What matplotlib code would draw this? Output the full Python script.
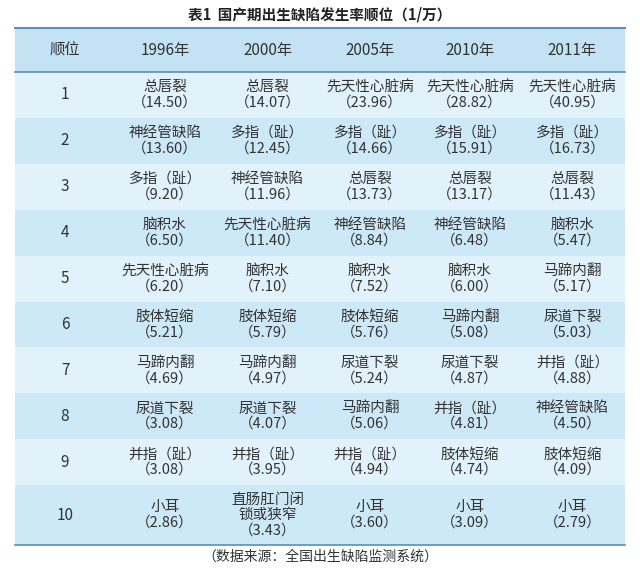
import matplotlib
matplotlib.use("Agg")
import matplotlib.pyplot as plt
from matplotlib.patches import Rectangle

plt.rcParams["font.family"] = ["Noto Sans CJK SC", "DejaVu Sans"]

title = "表1  国产期出生缺陷发生率顺位（1/万）"
source = "（数据来源：全国出生缺陷监测系统）"
headers = ["顺位", "1996年", "2000年", "2005年", "2010年", "2011年"]
ranks = ["1", "2", "3", "4", "5", "6", "7", "8", "9", "10"]
names_1996 = ["总唇裂", "神经管缺陷", "多指（趾）", "脑积水", "先天性心脏病", "肢体短缩", "马蹄内翻", "尿道下裂", "并指（趾）", "小耳"]
vals_1996 = ["14.50", "13.60", "9.20", "6.50", "6.20", "5.21", "4.69", "3.08", "3.08", "2.86"]
names_2000 = ["总唇裂", "多指（趾）", "神经管缺陷", "先天性心脏病", "脑积水", "肢体短缩", "马蹄内翻", "尿道下裂", "并指（趾）", "直肠肛门闭\n锁或狭窄"]
vals_2000 = ["14.07", "12.45", "11.96", "11.40", "7.10", "5.79", "4.97", "4.07", "3.95", "3.43"]
names_2005 = ["先天性心脏病", "多指（趾）", "总唇裂", "神经管缺陷", "脑积水", "肢体短缩", "尿道下裂", "马蹄内翻", "并指（趾）", "小耳"]
vals_2005 = ["23.96", "14.66", "13.73", "8.84", "7.52", "5.76", "5.24", "5.06", "4.94", "3.60"]
names_2010 = ["先天性心脏病", "多指（趾）", "总唇裂", "神经管缺陷", "脑积水", "马蹄内翻", "尿道下裂", "并指（趾）", "肢体短缩", "小耳"]
vals_2010 = ["28.82", "15.91", "13.17", "6.48", "6.00", "5.08", "4.87", "4.81", "4.74", "3.09"]
names_2011 = ["先天性心脏病", "多指（趾）", "总唇裂", "脑积水", "马蹄内翻", "尿道下裂", "并指（趾）", "神经管缺陷", "肢体短缩", "小耳"]
vals_2011 = ["40.95", "16.73", "11.43", "5.47", "5.17", "5.03", "4.88", "4.50", "4.09", "2.79"]

W, H = 640, 571
fig = plt.figure(figsize=(W/100, H/100), dpi=100)
ax = fig.add_axes([0, 0, 1, 1])
ax.set_xlim(0, W); ax.set_ylim(H, 0); ax.axis("off")

tc = "#333333"
left, right = 15, 625
col_edges = [15, 115, 215, 320, 420, 520, 625]
centers = [(col_edges[i] + col_edges[i+1]) / 2 for i in range(6)]
top, head_b = 28, 72
row_h = 45.9
row_tops = [head_b + i * row_h for i in range(10)] + [545]
row_tops[10] = 545

ax.text(W/2, 14, title, ha="center", va="center", fontsize=10.5, fontweight="bold", color="#222222")
ax.add_patch(Rectangle((left, top), right-left, head_b-top, color="#c3e3f5", lw=0))
for i in range(10):
    y0 = row_tops[i]; y1 = row_tops[i+1] if i < 9 else 545
    c = "#e2f2fb" if i % 2 == 0 else "#cde8f6"
    ax.add_patch(Rectangle((left, y0), right-left, y1-y0, color=c, lw=0))
ax.plot([left, right], [top, top], color="#5b8fb8", lw=1.5)
ax.plot([left, right], [head_b, head_b], color="#5b8fb8", lw=1.2)
ax.plot([left, right], [545, 545], color="#5b8fb8", lw=1.2)

for c, h in zip(centers, headers):
    ax.text(c, (top+head_b)/2, h, ha="center", va="center", fontsize=11, color=tc)

cols = [(names_1996, vals_1996), (names_2000, vals_2000), (names_2005, vals_2005),
        (names_2010, vals_2010), (names_2011, vals_2011)]
for i in range(10):
    y0 = row_tops[i]; y1 = row_tops[i+1] if i < 9 else 545
    yc = (y0 + y1) / 2
    ax.text(centers[0], yc, ranks[i], ha="center", va="center", fontsize=11, color=tc)
    for j, (ns, vs) in enumerate(cols):
        txt = ns[i] + "\n（" + vs[i] + "）"
        ax.text(centers[j+1], yc, txt, ha="center", va="center", fontsize=10.5,
                color=tc, linespacing=1.15)

ax.text(W/2, 557, source, ha="center", va="center", fontsize=10, color=tc)
fig.savefig("out.png", dpi=100, facecolor="white")
